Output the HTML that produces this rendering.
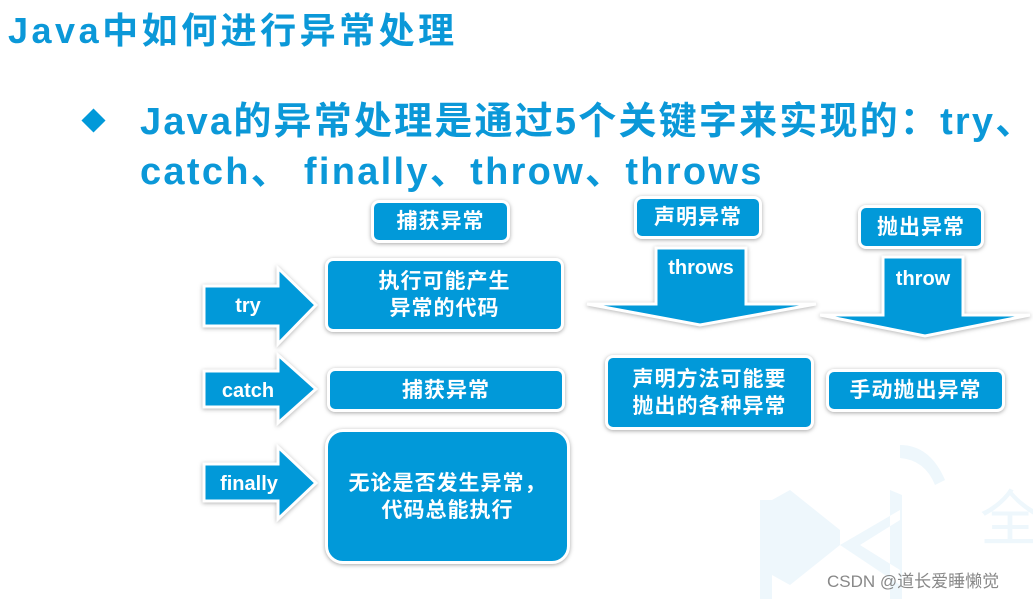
<!DOCTYPE html>
<html><head><meta charset="utf-8"><style>
html,body{margin:0;padding:0;background:#fff;}
body{width:1033px;height:599px;position:relative;overflow:hidden;font-family:"Liberation Sans","Noto Sans CJK SC",sans-serif;}
.t{position:absolute;color:#0b98d8;font-weight:bold;white-space:nowrap;}
.b{position:absolute;background:#0199d9;color:#fff;font-weight:bold;border:3px solid #fff;box-shadow:0 1px 4px rgba(0,0,0,.35);border-radius:8px;display:flex;align-items:center;justify-content:center;text-align:center;font-size:21px;line-height:27px;box-sizing:border-box;letter-spacing:1px;}
svg{position:absolute;left:0;top:0;}
.l{font-family:"Liberation Sans","Noto Sans CJK SC",sans-serif;font-weight:bold;fill:#fff;font-size:20px;}
</style></head><body>
<svg width="1033" height="599">
<g fill="#eef7fc">
<path d="M772 500 L790 490 L840 530 L840 545 L790 585 L772 575 L772 599 L760 599 L760 500 Z"/>
<path d="M890 490 L902 495 L902 599 L890 599 Z M900 510 L840 545 L900 585 L900 570 L860 545 L900 520 Z"/>
<path d="M900 445 Q930 445 945 480 L935 485 Q925 460 900 458 Z"/>
</g>
<text x="980" y="540" font-size="60" fill="#eef7fc" font-family="Noto Sans CJK SC">全</text>
<g fill="#0199d9" stroke="#fff" stroke-width="3" filter="drop-shadow(0 1px 2px rgba(0,0,0,.3))">
<path d="M204 286 L278 286 L278 268 L316 305 L278 344 L278 326 L204 326 Z"/>
<path d="M204 371 L278 371 L278 355 L316 389 L278 423 L278 407 L204 407 Z"/>
<path d="M204 464 L278 464 L278 447 L316 483 L278 519 L278 501 L204 501 Z"/>
<path d="M656 248 L746 248 L746 304 L816 304 L700 325 L587 304 L656 304 Z"/>
<path d="M883 257 L963 257 L963 315 L1030 315 L925 336 L820 315 L883 315 Z"/>
</g>
<text class="l" x="248" y="312" text-anchor="middle">try</text>
<text class="l" x="248" y="397" text-anchor="middle">catch</text>
<text class="l" x="249" y="490" text-anchor="middle">finally</text>
<text class="l" x="701" y="274" text-anchor="middle">throws</text>
<text class="l" x="923" y="285" text-anchor="middle">throw</text>
</svg>
<div class="t" style="left:8px;top:8px;font-size:36px;line-height:46px;letter-spacing:3.5px;">Java中如何进行异常处理</div>
<div style="position:absolute;left:85px;top:112px;width:17px;height:17px;background:#0199d9;transform:rotate(45deg);"></div>
<div class="t" style="left:140px;top:98px;font-size:38px;line-height:48px;letter-spacing:2.2px;">Java的异常处理是通过5个关键字来实现的：try、</div>
<div class="t" style="left:140px;top:148px;font-size:38px;line-height:48px;letter-spacing:2.3px;">catch、 finally、throw、throws</div>
<div class="b" style="left:371px;top:200px;width:139px;height:43px;">捕获异常</div>
<div class="b" style="left:325px;top:258px;width:239px;height:74px;">执行可能产生<br>异常的代码</div>
<div class="b" style="left:327px;top:368px;width:238px;height:44px;">捕获异常</div>
<div class="b" style="left:325px;top:429px;width:245px;height:135px;border-radius:18px;">无论是否发生异常，<br>代码总能执行</div>
<div class="b" style="left:634px;top:196px;width:128px;height:43px;">声明异常</div>
<div class="b" style="left:858px;top:205px;width:126px;height:44px;">抛出异常</div>
<div class="b" style="left:605px;top:355px;width:209px;height:75px;">声明方法可能要<br>抛出的各种异常</div>
<div class="b" style="left:826px;top:369px;width:179px;height:43px;">手动抛出异常</div>
<div style="position:absolute;left:827px;top:567px;font-size:17px;color:#888;white-space:nowrap;font-family:'Liberation Sans','Noto Sans CJK SC',sans-serif;">CSDN @道长爱睡懒觉</div>
</body></html>
